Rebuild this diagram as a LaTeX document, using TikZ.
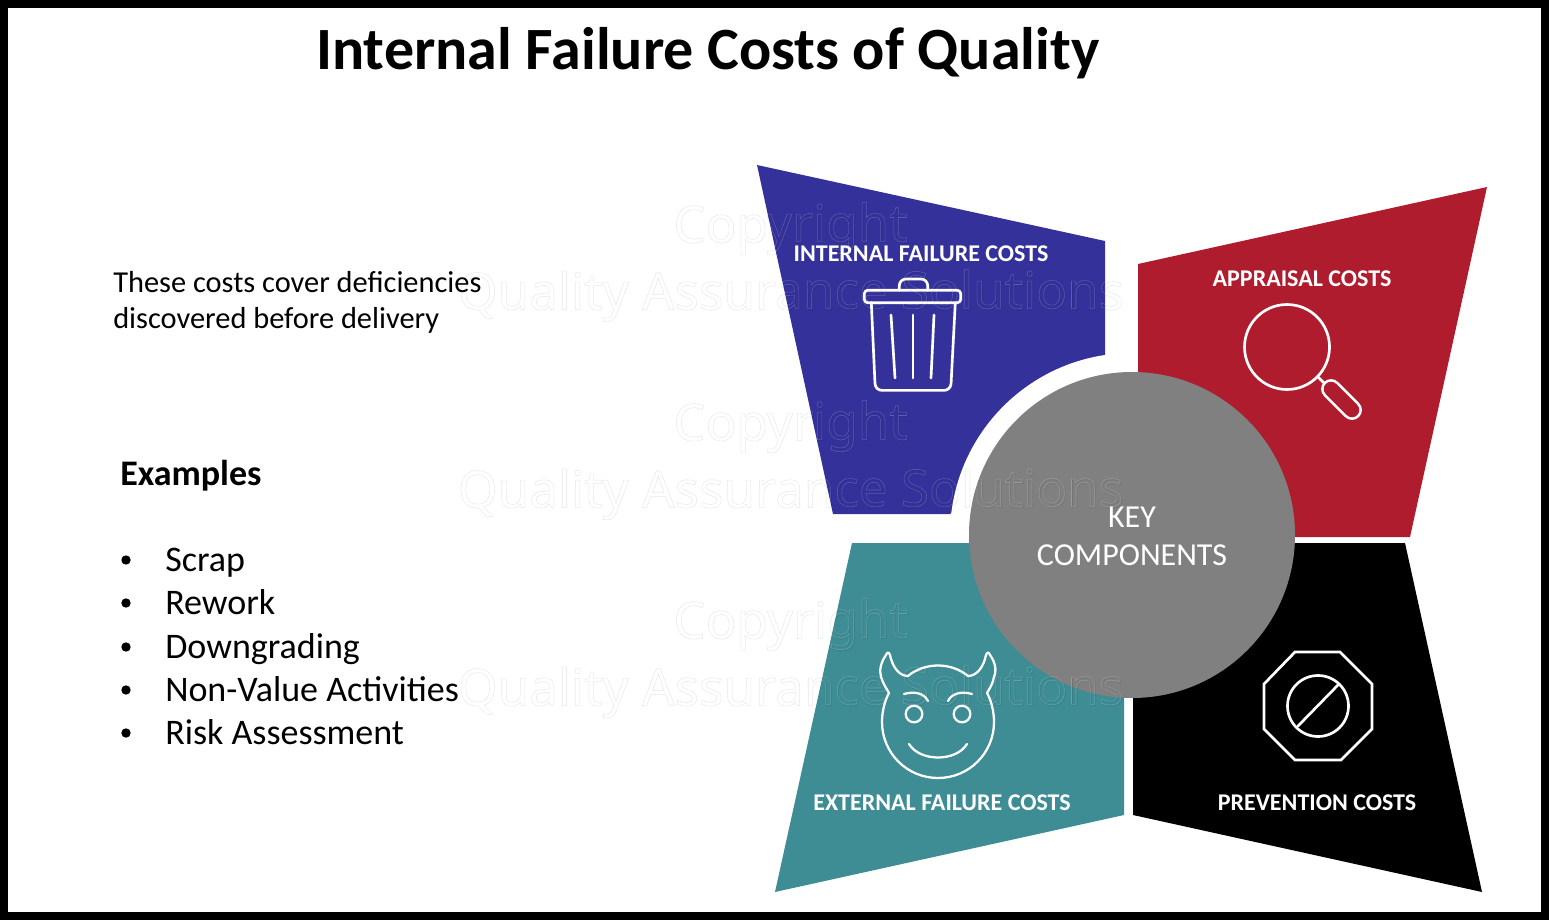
\documentclass[tikz,border=0pt]{standalone}
\usepackage{fontspec}
\setmainfont{Carlito}
\newfontfamily\wmfont{Noto Sans}
\definecolor{cblue}{HTML}{34329A}
\definecolor{cred}{HTML}{AF1C2D}
\definecolor{cteal}{HTML}{3E8C94}
\definecolor{cgray}{HTML}{808080}
\tikzset{
  x=0.75pt,y=-0.75pt,
  icon/.style={draw=white,line width=2pt,line join=round,line cap=round},
  thinicon/.style={draw=white,line width=1.7pt,line join=round,line cap=round},
  title/.style={anchor=base west,inner sep=0,font=\fontsize{45}{48}\selectfont\bfseries},
  intro/.style={anchor=base west,inner sep=0,font=\fontsize{22.8}{28}\selectfont},
  body/.style={anchor=base west,inner sep=0,font=\fontsize{27}{30}\selectfont},
  head/.style={anchor=base west,inner sep=0,font=\fontsize{27}{30}\selectfont\bfseries},
  tag/.style={anchor=base,inner sep=0,text=white,font=\fontsize{18}{20}\selectfont\bfseries},
  hub/.style={anchor=base,inner sep=0,text=white,font=\fontsize{24}{28}\selectfont},
  bulletdot/.style={fill=black,draw=none},
  wmtext/.style={anchor=base,inner sep=0,font=\fontsize{38.3}{44}\wmfont\selectfont},
}
\newcommand{\wmdark}[1]{\special{pdf:code q 1 Tr 0.4 w 0 0 0 RG}#1\special{pdf:code Q}}
\newcommand{\wmlight}[1]{\special{pdf:code q 1 Tr 0.4 w 1 1 1 RG}#1\special{pdf:code Q}}
\newcommand{\wmline}[3]{%
  \node[wmtext,opacity=0.09] (#1a) at (791,#2+0.6) {\wmdark{#3}};
  \node[wmtext,opacity=0.20] (#1b) at (790,#2-0.6) {\wmlight{#3}};
}
\begin{document}
\begin{tikzpicture}
\useasboundingbox (0,0) rectangle (1549,920);
\fill[black] (0,0) rectangle (1549,920);
\fill[white] (8,8) rectangle (1541,912);
% blue shape with its ring
\fill[cblue] (757,165) -- (1105,241) -- (1105,400) -- (950,514) -- (833,514) -- cycle;
\fill[white] (1132,535) circle[radius=182];
\fill[cred] (1138,264) -- (1487,187) -- (1410,537) -- (1138,537) -- cycle;
\fill[black] (1133,543) -- (1405,543) -- (1482,892) -- (1133,815) -- cycle;
\fill[cteal] (852,543) -- (1124,543) -- (1124,815) -- (775,892) -- cycle;
\fill[cgray] (1132,535) circle[radius=163];
% trash icon
\draw[icon,rounded corners=2.5pt] (864.3,302.7) -- (864.3,290.3) -- (960.7,290.3) -- (960.7,302.7) -- cycle;
\draw[icon,rounded corners=5pt] (899.3,290.3) -- (899.3,279) -- (927.7,279) -- (927.7,290.3);
\draw[icon,rounded corners=5pt] (871.3,302.7) -- (875.3,390.4) -- (950.7,390.4) -- (955.3,302.7);
\draw[icon] (891,315) -- (895,378);
\draw[icon] (913,315) -- (913,378);
\draw[icon] (934,315) -- (931,378);
% magnifier
\draw[icon] (1287,347) circle[radius=42.5];
\draw[icon] (1318,377) -- (1324,383);
\draw[draw=white,line cap=round,line width=2pt,double=cred,double distance=10.9pt] (1331,389) -- (1352,410);
% devil
\draw[thinicon] (908,676) .. controls (925,662) and (951,662) .. (968,676)
  .. controls (978,676) and (984,665) .. (986,655)
  .. controls (987,652) and (989,652) .. (990,655)
  .. controls (995,662) and (997,670) .. (994,677)
  .. controls (993,683) and (990,688) .. (987,693)
  .. controls (991,700) and (994,711) .. (994,722)
  .. controls (994,753) and (969,778) .. (938,778)
  .. controls (907,778) and (882,753) .. (882,722)
  .. controls (882,711) and (885,700) .. (889,693)
  .. controls (886,688) and (883,683) .. (881,677)
  .. controls (879,670) and (881,662) .. (886,655)
  .. controls (887,652) and (889,652) .. (890,655)
  .. controls (892,665) and (898,676) .. cycle;
\draw[thinicon] (914,714) circle[radius=8.3];
\draw[thinicon] (962,714) circle[radius=8.3];
\draw[thinicon] (904,694) .. controls (914,691) and (924,693) .. (928,701);
\draw[thinicon] (948,701) .. controls (952,693) and (962,691) .. (972,694);
\draw[thinicon] (909,744) .. controls (920,762) and (956,762) .. (967,744);
% stop icon
\draw[icon,line cap=butt,line join=miter] (1295,652) -- (1340,652) -- (1372,684) -- (1372,729) -- (1341,760) -- (1295,760) -- (1264,729) -- (1264,684) -- cycle;
\draw[icon] (1318,706) circle[radius=30.5];
\draw[icon] (1298,726) -- (1338,685);
% watermarks
\wmline{wa}{242}{Copyright}
\wmline{wb}{309}{Quality Assurance Solutions}
\wmline{wc}{440}{Copyright}
\wmline{wd}{507}{Quality Assurance Solutions}
\wmline{we}{638}{Copyright}
\wmline{wf}{705}{Quality Assurance Solutions}
% texts
\node[title] (ttl) at (316,70) {Internal Failure Costs of Quality};
\node[intro] (intro1) at (113,292.5) {These costs cover deficiencies};
\node[intro] (intro2) at (113,328.5) {discovered before delivery};
\node[head] (ex) at (120,485) {Examples};
\node[body] (i1) at (165,571) {Scrap};
\node[body] (i2) at (165,614) {Rework};
\node[body] (i3) at (165,658) {Downgrading};
\node[body] (i4) at (165,701) {Non-Value Activities};
\node[body] (i5) at (165,744) {Risk Assessment};
\foreach \yy in {560,603,647,690,733} \fill[bulletdot] (126,\yy) circle[radius=4.7];
\node[tag] (t1) at (921,261) {INTERNAL FAILURE COSTS};
\node[tag] (t2) at (1302,286) {APPRAISAL COSTS};
\node[tag] (t3) at (942,810) {EXTERNAL FAILURE COSTS};
\node[tag] (t4) at (1317,810) {PREVENTION COSTS};
\node[hub] (k1) at (1132,527) {KEY};
\node[hub] (k2) at (1132,565) {COMPONENTS};
\end{tikzpicture}
\end{document}
